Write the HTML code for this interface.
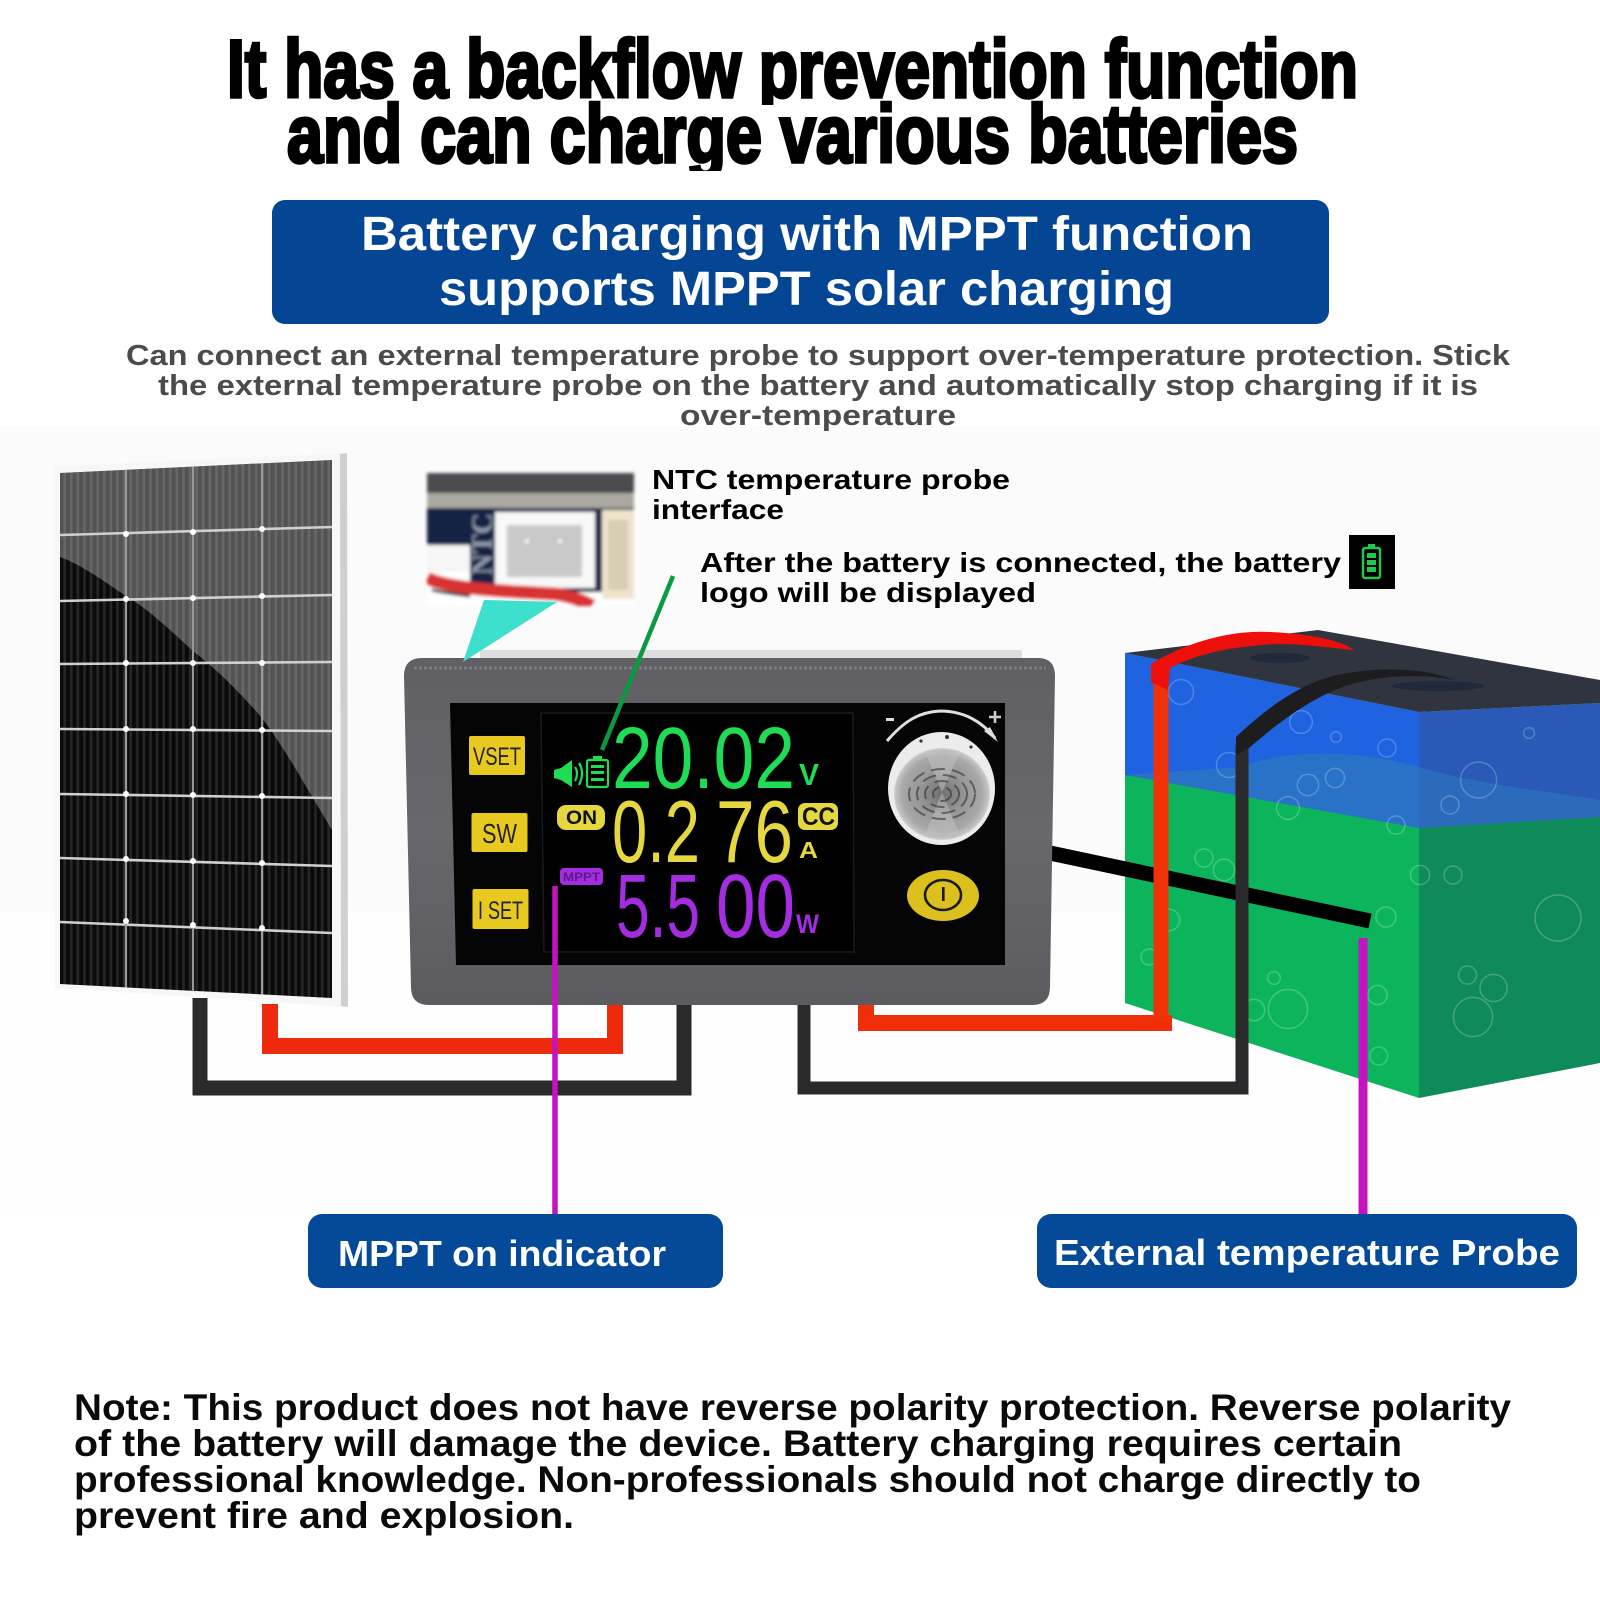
<!DOCTYPE html>
<html><head><meta charset="utf-8"><style>
html,body{margin:0;padding:0;background:#fff}
svg{display:block}
text{font-family:"Liberation Sans",sans-serif;font-weight:700}
text.r{font-weight:400}
</style></head><body>
<svg width="1600" height="1600" viewBox="0 0 1600 1600" xmlns="http://www.w3.org/2000/svg">
<defs>
<pattern id="st" width="6.6" height="10" patternUnits="userSpaceOnUse"><rect width="6.6" height="10" fill="#0a0a0a"/><rect x="4" width="2.6" height="10" fill="#262626"/></pattern>
<clipPath id="pc"><polygon points="60,473 332,460 332,998 60,984"/></clipPath>
<radialGradient id="kn" cx="50%" cy="50%" r="52%"><stop offset="0" stop-color="#6f6f6f"/><stop offset=".45" stop-color="#969696"/><stop offset=".8" stop-color="#a8a8a8"/><stop offset=".93" stop-color="#c4c4c4"/><stop offset="1" stop-color="#e8e8e8"/></radialGradient>
<linearGradient id="dv" x1="0" y1="0" x2="0" y2="1"><stop offset="0" stop-color="#606064"/><stop offset=".5" stop-color="#68686c"/><stop offset="1" stop-color="#5c5c60"/></linearGradient>
<filter id="bl" x="-10%" y="-10%" width="120%" height="120%"><feGaussianBlur stdDeviation="1.6"/></filter>
<clipPath id="nc"><rect x="427" y="473" width="207" height="133"/></clipPath>
<clipPath id="lf"><polygon points="1125,653 1419,712 1419,1098 1125,1003"/></clipPath>
<clipPath id="rf"><polygon points="1419,712 1600,703 1600,1063 1419,1098"/></clipPath>
<clipPath id="t1"><rect x="0" y="0" width="1600" height="105"/></clipPath>
<clipPath id="t2"><rect x="0" y="100" width="1600" height="71"/></clipPath>
</defs>
<rect width="1600" height="1600" fill="#fff"/>
<rect y="427" width="1600" height="486" fill="#fcfbfb"/>
<rect y="913" width="1600" height="299" fill="#fefefe"/>

<!-- headings -->
<g fill="#000" stroke="#000" stroke-width="3.5">
<g clip-path="url(#t1)"><text x="227" y="97" font-size="82" textLength="1131" lengthAdjust="spacingAndGlyphs">It has a backflow prevention function</text></g>
<g clip-path="url(#t2)"><text x="287" y="162" font-size="82" textLength="1011" lengthAdjust="spacingAndGlyphs">and can charge various batteries</text></g>
</g>
<rect x="272" y="200" width="1057" height="124" rx="13" fill="#044694"/>
<g fill="#fff">
<text x="361" y="250" font-size="48" textLength="892" lengthAdjust="spacingAndGlyphs">Battery charging with MPPT function</text>
<text x="439" y="305" font-size="48" textLength="735" lengthAdjust="spacingAndGlyphs">supports MPPT solar charging</text>
</g>
<g fill="#4b4b4b" font-size="29">
<text x="126" y="365" textLength="1384" lengthAdjust="spacingAndGlyphs">Can connect an external temperature probe to support over-temperature protection. Stick</text>
<text x="158" y="395" textLength="1320" lengthAdjust="spacingAndGlyphs">the external temperature probe on the battery and automatically stop charging if it is</text>
<text x="680" y="425" textLength="276" lengthAdjust="spacingAndGlyphs">over-temperature</text>
</g>

<!-- solar panel -->
<polygon points="55,466 347,453 348,1007 55,988" fill="#f7f7f7"/>
<polygon points="340,454 347,453 348,1007 341,1006" fill="#cfcfcf"/>
<polygon points="60,473 332,460 332,998 60,984" fill="url(#st)"/>
<g clip-path="url(#pc)">
<path d="M60,557 C82,565 105,582 126,596 C150,610 172,632 193,651 C220,672 242,695 262,718 C282,745 295,768 307,788 L335,835 L335,455 L58,455 Z" fill="#fff" opacity=".3"/>
<g fill="none">
<g stroke="#d0d0d0" stroke-width="2.6">
<path d="M60,535 L332,527"/><path d="M60,601 L332,595"/><path d="M60,664 L332,662"/><path d="M60,729 L332,731"/><path d="M60,794 L332,798"/><path d="M60,858 L332,866"/><path d="M60,922 L332,933"/>
</g>
<g stroke="#999" stroke-width="2.2">
<path d="M126,460 V1000"/><path d="M193,460 V1000"/><path d="M262,460 V1000"/>
</g>
</g>
<g fill="#fff">
<circle cx="126" cy="534" r="3"/><circle cx="193" cy="532" r="3"/><circle cx="262" cy="529" r="3"/>
<circle cx="126" cy="599" r="3"/><circle cx="193" cy="598" r="3"/><circle cx="262" cy="596" r="3"/>
<circle cx="126" cy="663" r="3"/><circle cx="193" cy="663" r="3"/><circle cx="262" cy="663" r="3"/>
<circle cx="126" cy="729" r="3"/><circle cx="193" cy="729" r="3"/><circle cx="262" cy="730" r="3"/>
<circle cx="126" cy="794" r="3"/><circle cx="193" cy="795" r="3"/><circle cx="262" cy="796" r="3"/>
<circle cx="126" cy="859" r="3"/><circle cx="193" cy="861" r="3"/><circle cx="262" cy="863" r="3"/>
<circle cx="126" cy="921" r="3"/><circle cx="193" cy="925" r="3"/><circle cx="262" cy="928" r="3"/>
</g>
</g>

<!-- battery -->
<polygon points="1125,653 1419,712 1419,1098 1125,1003" fill="#0cb55c"/>
<polygon points="1419,712 1600,703 1600,1063 1419,1098" fill="#0f8a5a"/>
<g clip-path="url(#lf)">
<polygon points="1125,653 1419,712 1419,828 1125,775" fill="#1f63e0"/>
<path d="M1125,775 L1240,767 C1290,748 1360,750 1419,767 L1419,828 Z" fill="#2a72c8"/>
</g>
<g clip-path="url(#rf)">
<polygon points="1419,712 1600,703 1600,815 1419,828" fill="#2a59b8"/>
<path d="M1419,767 C1480,785 1540,790 1600,800 L1600,817 L1419,828 Z" fill="#2c6bbc"/>
</g>
<polygon points="1125,653 1318,630 1600,680 1600,703 1419,712" fill="#2f343f"/>
<ellipse cx="1280" cy="658" rx="30" ry="5" fill="#1f2a3a"/>
<ellipse cx="1438" cy="686" rx="46" ry="5" fill="#1f2a3a"/>
<g fill="none" stroke="#fff" stroke-opacity=".22" stroke-width="1.5">
<circle cx="1181" cy="692" r="12.5"/><circle cx="1301" cy="722" r="11.4"/><circle cx="1336" cy="737" r="5.4"/><circle cx="1387" cy="748" r="9"/><circle cx="1229" cy="765" r="12.5"/><circle cx="1335" cy="778" r="9.6"/><circle cx="1308" cy="785" r="10.7"/><circle cx="1288" cy="808" r="11.4"/><circle cx="1396" cy="825" r="9"/><circle cx="1204" cy="858" r="9"/><circle cx="1224" cy="870" r="10.7"/><circle cx="1420" cy="875" r="9.6"/><circle cx="1453" cy="875" r="9"/><circle cx="1558" cy="918" r="23"/><circle cx="1386" cy="917" r="10"/><circle cx="1169" cy="920" r="10.7"/><circle cx="1149" cy="957" r="8"/><circle cx="1274" cy="978" r="6.4"/><circle cx="1288" cy="1009" r="19.6"/><circle cx="1254" cy="1010" r="10.7"/><circle cx="1377.5" cy="995" r="9.6"/><circle cx="1378.6" cy="1056" r="9"/><circle cx="1467.5" cy="975" r="9"/><circle cx="1493.6" cy="988" r="13.6"/><circle cx="1473" cy="1017" r="19.6"/><circle cx="1478.6" cy="780" r="18"/><circle cx="1450" cy="805" r="9"/><circle cx="1529" cy="733" r="5.4"/>
</g>

<!-- wires -->
<path d="M1050,853 L1370,921" stroke="#000" stroke-width="15" fill="none"/>
<path d="M270,1004 V1046 H615 V1005" stroke="#ee2a0c" stroke-width="16" fill="none"/>
<path d="M200,998 V1088 H684 V1005" stroke="#2a2a2a" stroke-width="15" fill="none"/>
<path d="M866,1005 V1023 H1172" stroke="#ee2e08" stroke-width="16" fill="none"/>
<path d="M804,1005 V1088 H1242 V745" stroke="#2a2a2c" stroke-width="13" fill="none"/>
<path d="M1161,1022 V675" stroke="#f03208" stroke-width="15" fill="none"/>
<path d="M1151,682 L1151,664 C1190,640 1235,630 1270,632 C1310,634 1340,640 1354,650 C1330,648 1290,642 1262,645 C1225,648 1195,655 1170,668 L1168,690 Z" fill="#ee0f0a"/>
<path d="M1236,737 C1270,705 1300,685 1330,677 C1360,668 1420,665 1454,680 C1420,673 1370,675 1335,690 C1300,705 1270,730 1249,748 L1236,755 Z" fill="#1d1d1f"/>

<!-- device -->
<polygon points="480,650 1022,650 1022,660 480,660" fill="#dedede"/>
<path d="M422,658 H1038 Q1055,658 1055,676 L1050,987 Q1050,1005 1032,1005 H429 Q411,1005 411,987 L404,676 Q404,658 422,658 Z" fill="url(#dv)"/>
<path d="M414,668 H1046" stroke="#8c8c8c" stroke-width="3" stroke-dasharray="3 2" opacity=".65"/>
<polygon points="450,703 1005,703 1005,965 456,965" fill="#050505"/>
<polygon points="541,713 853,713 854,952 544,952" fill="#000" stroke="#1a1a1a" stroke-width="1.5"/>

<!-- buttons -->
<g fill="#e7c91f"><rect x="469" y="736" width="56" height="39" rx="2"/><rect x="471.5" y="813" width="56" height="39" rx="2"/><rect x="472.5" y="889" width="56" height="40" rx="2"/></g>
<g fill="#222">
<text class="r" x="473" y="765" font-size="25" textLength="48" lengthAdjust="spacingAndGlyphs">VSET</text>
<text class="r" x="482" y="843" font-size="28" textLength="35" lengthAdjust="spacingAndGlyphs">SW</text>
<text class="r" x="478" y="919" font-size="25" textLength="45" lengthAdjust="spacingAndGlyphs">I SET</text>
</g>

<!-- lcd readings -->
<g>
<text class="r" x="612" y="788" font-size="87" fill="#1fdc55" textLength="183" lengthAdjust="spacingAndGlyphs">20.02</text>
<text class="r" x="612" y="862" font-size="88" fill="#e4d740" textLength="88" lengthAdjust="spacingAndGlyphs">0.2</text>
<text class="r" x="716" y="862" font-size="88" fill="#e4d740" textLength="77" lengthAdjust="spacingAndGlyphs">76</text>
<text class="r" x="616" y="937" font-size="90" fill="#a42de2" textLength="84" lengthAdjust="spacingAndGlyphs">5.5</text>
<text class="r" x="716" y="937" font-size="90" fill="#a42de2" textLength="79" lengthAdjust="spacingAndGlyphs">00</text>
</g>
<text x="799" y="785" font-size="31" fill="#1fdc55" textLength="20" lengthAdjust="spacingAndGlyphs">V</text>
<text x="799" y="858" font-size="23" fill="#e4d740" textLength="19" lengthAdjust="spacingAndGlyphs">A</text>
<text x="796" y="933" font-size="27" fill="#a42de2" textLength="23" lengthAdjust="spacingAndGlyphs">W</text>
<rect x="798" y="803" width="40" height="27" rx="7" fill="#e4d740"/>
<text x="802" y="825" font-size="25" fill="#111" textLength="33" lengthAdjust="spacingAndGlyphs">CC</text>
<rect x="557" y="805" width="48" height="25" rx="9" fill="#e4d740"/>
<text x="566" y="824" font-size="19" fill="#111" textLength="31" lengthAdjust="spacingAndGlyphs">ON</text>
<rect x="560" y="868" width="43" height="17" rx="4" fill="#a42de2"/>
<text x="563" y="881" font-size="12" fill="#5a1a88" textLength="37" lengthAdjust="spacingAndGlyphs">MPPT</text>
<!-- speaker and battery -->
<polygon points="554,770 561,768 572,760 572,787 561,780 554,778" fill="#1fdc55"/>
<path d="M575,767 Q579,773 575,781 M579,763 Q585,773 579,785" stroke="#1fdc55" stroke-width="2.2" fill="none"/>
<rect x="587" y="760" width="21" height="27" rx="2" fill="none" stroke="#1fdc55" stroke-width="2.2"/>
<rect x="593" y="756" width="9" height="3" fill="#1fdc55"/>
<g fill="#1fdc55"><rect x="591" y="765" width="13" height="3"/><rect x="591" y="771" width="13" height="3"/><rect x="591" y="778" width="13" height="3"/></g>

<!-- knob -->
<path d="M887,741 C905,720 920,712 940,711 C965,711 982,722 995,738" fill="none" stroke="#e0e0e0" stroke-width="3"/>
<polygon points="984,731 998,742 990,727" fill="#ddd"/>
<rect x="886" y="718" width="8" height="3" fill="#ddd"/>
<path d="M995,711 V723 M989,717 H1001" stroke="#ccc" stroke-width="2.6"/>
<ellipse cx="941.5" cy="788.5" rx="53.5" ry="56.5" fill="#ececec"/>
<ellipse cx="942" cy="794" rx="48" ry="46" fill="url(#kn)"/>
<polygon points="942,792 925,752 960,752" fill="#c8c8c8" opacity=".45"/>
<polygon points="942,792 925,835 960,835" fill="#c8c8c8" opacity=".45"/>
<g fill="none" stroke="#333" stroke-width="2" opacity=".6" stroke-dasharray="14 7">
<ellipse cx="942" cy="794" rx="9" ry="7"/><ellipse cx="942" cy="794" rx="17" ry="13"/><ellipse cx="942" cy="794" rx="25" ry="19"/><ellipse cx="942" cy="794" rx="33" ry="25"/>
</g>
<g fill="#333"><circle cx="921" cy="741" r="1.6"/><circle cx="947" cy="737" r="2"/><circle cx="971" cy="747" r="1.6"/></g>
<ellipse cx="943" cy="895.5" rx="36" ry="25.5" fill="#dcc11e"/>
<ellipse cx="943" cy="895" rx="18" ry="15" fill="none" stroke="#1a1a1a" stroke-width="2.6"/>
<rect x="942" y="887" width="2.6" height="14" fill="#1a1a1a"/>

<!-- ntc inset -->
<g filter="url(#bl)">
<g clip-path="url(#nc)">
<rect x="427" y="473" width="207" height="133" fill="#fff"/>
<rect x="427" y="473" width="207" height="20" fill="#4c4c50"/>
<rect x="427" y="493" width="207" height="15" fill="#aaa8a0"/>
<rect x="427" y="508" width="207" height="37" fill="#142044"/>
<rect x="470" y="545" width="164" height="47" fill="#142044"/>
<rect x="427" y="545" width="43" height="27" fill="#f6f6f6"/>
<text transform="translate(492,575) rotate(-90)" font-size="30" fill="#8f98a8" textLength="62" lengthAdjust="spacingAndGlyphs" style="font-family:'Liberation Serif',serif">NTC</text>
<rect x="495" y="512" width="100" height="76" fill="#f8f8f8"/>
<rect x="507" y="525" width="75" height="52" fill="#c9c9c9"/>
<circle cx="527" cy="541" r="2" fill="#fff"/><circle cx="560" cy="541" r="2" fill="#fff"/>
<rect x="602" y="510" width="32" height="89" fill="#eee4cc"/>
<rect x="608" y="520" width="20" height="70" fill="#d8cdb5"/>
<path d="M427,578 C450,590 520,592 555,594 C570,596 582,600 592,606" stroke="#d93030" stroke-width="13" fill="none"/>
<path d="M432,590 C440,592 455,594 470,596" stroke="#333" stroke-width="3" fill="none"/>
</g>
</g>
<polygon points="463,662 484,600 557,602" fill="#3ce0cc"/>

<!-- leader lines -->
<path d="M673,576 L602,750" stroke="#0a9a42" stroke-width="4.5"/>
<path d="M555,886 V1216" stroke="#c414bf" stroke-width="5.5"/>
<path d="M1363,938 V1216" stroke="#c414bf" stroke-width="9"/>

<!-- callouts -->
<g fill="#000" font-size="28">
<text x="652" y="489" textLength="358" lengthAdjust="spacingAndGlyphs">NTC temperature probe</text>
<text x="652" y="519" textLength="132" lengthAdjust="spacingAndGlyphs">interface</text>
<text x="700" y="572" textLength="641" lengthAdjust="spacingAndGlyphs">After the battery is connected, the battery</text>
<text x="700" y="602" textLength="336" lengthAdjust="spacingAndGlyphs">logo will be displayed</text>
</g>
<rect x="1349" y="535" width="46" height="54" fill="#000"/>
<rect x="1363" y="548" width="17" height="30" rx="2" fill="none" stroke="#1fc84e" stroke-width="2.5"/>
<rect x="1368" y="544" width="7" height="3.5" fill="#1fc84e"/>
<g fill="#1fc84e"><rect x="1367" y="553" width="9" height="5"/><rect x="1367" y="560" width="9" height="5"/><rect x="1367" y="567" width="9" height="5"/></g>

<rect x="308" y="1214" width="415" height="74" rx="14" fill="#054a98"/>
<rect x="1037" y="1214" width="540" height="74" rx="14" fill="#054a98"/>
<g fill="#fff" font-size="36">
<text x="338" y="1266" textLength="328" lengthAdjust="spacingAndGlyphs">MPPT on indicator</text>
<text x="1054" y="1265" textLength="506" lengthAdjust="spacingAndGlyphs">External temperature Probe</text>
</g>

<!-- note -->
<g fill="#0a0a0a" font-size="37">
<text x="74" y="1420" textLength="1437" lengthAdjust="spacingAndGlyphs">Note: This product does not have reverse polarity protection. Reverse polarity</text>
<text x="74" y="1456" textLength="1328" lengthAdjust="spacingAndGlyphs">of the battery will damage the device. Battery charging requires certain</text>
<text x="74" y="1492" textLength="1347" lengthAdjust="spacingAndGlyphs">professional knowledge. Non-professionals should not charge directly to</text>
<text x="74" y="1528" textLength="500" lengthAdjust="spacingAndGlyphs">prevent fire and explosion.</text>
</g>
</svg>
</body></html>
